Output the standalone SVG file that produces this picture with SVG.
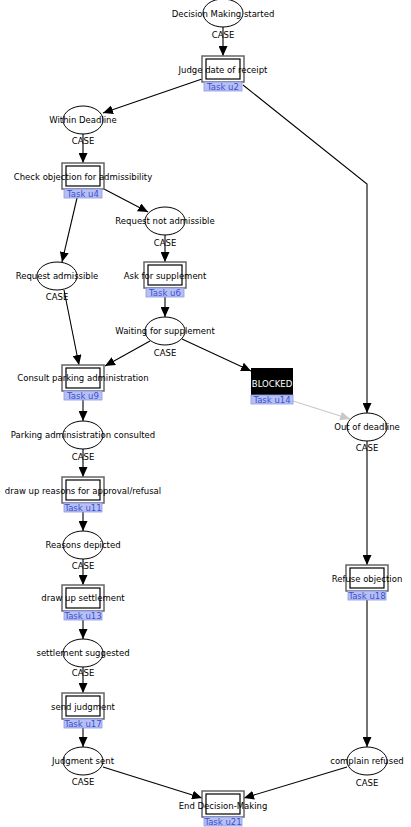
<svg xmlns="http://www.w3.org/2000/svg" width="411" height="827" viewBox="0 0 411 827">
<defs>
<marker id="ah" markerUnits="userSpaceOnUse" markerWidth="10" markerHeight="9" refX="10" refY="4.5" orient="auto"><path d="M0,0 L10,4.5 L0,9 z" fill="#000"/></marker>
<marker id="ahg" markerUnits="userSpaceOnUse" markerWidth="10" markerHeight="9" refX="10" refY="4.5" orient="auto"><path d="M0,0 L10,4.5 L0,9 z" fill="#c8c8c8"/></marker>
<style>
text{font-family:"DejaVu Sans",Verdana,sans-serif;font-size:8.5px;text-anchor:middle;fill:#000}
.pl ellipse{fill:none;stroke:#000;stroke-width:1}
.tk .o{fill:#fff;stroke:#666;stroke-width:1.5}
.tk .i{fill:none;stroke:#000;stroke-width:1.2}
.lb rect{fill:#b7c0f4;stroke:#8a98e0;stroke-width:0.8}
.lb text{fill:#3a4fd0}
.bl rect.b{fill:#000}
.bl text.w{fill:#fff}
#connectors path{fill:none;stroke:#000;stroke-width:1.1;marker-end:url(#ah)}
#connectors path.g{stroke:#c8c8c8;marker-end:url(#ahg)}
</style>
</defs>
<rect width="411" height="827" fill="#fff"/>
<g id="connectors">
<path d="M223,27 L223,56"/>
<path d="M202,79 L103,113"/>
<path d="M243,85 L367,184 L367,413"/>
<path d="M83,134 L83,163"/>
<path d="M104,189 L148,212"/>
<path d="M77,198 L62,262"/>
<path d="M165,235 L165,262"/>
<path d="M165,297 L165,317"/>
<path d="M64,290 L79,365"/>
<path d="M150,341 L105,366"/>
<path d="M182,339 L251,371"/>
<path class="g" d="M293,401 L350,419"/>
<path d="M83,400 L83,421"/>
<path d="M83,449 L83,477"/>
<path d="M83,512 L83,531"/>
<path d="M83,559 L83,585"/>
<path d="M83,620 L83,639"/>
<path d="M83,667 L83,693"/>
<path d="M83,728 L83,747"/>
<path d="M103,767 L202,798"/>
<path d="M367,441 L367,565"/>
<path d="M367,600 L367,747"/>
<path d="M347,767 L244,798"/>
</g>
<g id="p_start" class="pl"><ellipse cx="223" cy="13" rx="20" ry="14"/><text x="223" y="17">Decision Making started</text><text x="223" y="38">CASE</text></g>
<g id="t_u2" class="tk"><rect class="o" x="202" y="56" width="42" height="26"/><rect class="i" x="206" y="59" width="34" height="20"/><text x="223" y="73">Judge date of receipt</text><g class="lb"><rect x="204" y="82" width="38" height="9"/><text x="223" y="90">Task u2</text></g></g>
<g id="p_within" class="pl"><ellipse cx="83" cy="120" rx="20" ry="14"/><text x="83" y="123">Within Deadline</text><text x="83" y="144">CASE</text></g>
<g id="t_u4" class="tk"><rect class="o" x="62" y="163" width="42" height="26"/><rect class="i" x="66" y="166" width="34" height="20"/><text x="83" y="180">Check objection for admissibility</text><g class="lb"><rect x="64" y="189" width="38" height="9"/><text x="83" y="197">Task u4</text></g></g>
<g id="p_notadm" class="pl"><ellipse cx="165" cy="221" rx="20" ry="14"/><text x="165" y="224">Request not admissible</text><text x="165" y="246">CASE</text></g>
<g id="p_adm" class="pl"><ellipse cx="57" cy="276" rx="20" ry="14"/><text x="57" y="279">Request admissible</text><text x="57" y="300">CASE</text></g>
<g id="t_u6" class="tk"><rect class="o" x="144" y="262" width="42" height="26"/><rect class="i" x="148" y="265" width="34" height="20"/><text x="165" y="279">Ask for supplement</text><g class="lb"><rect x="146" y="288" width="38" height="9"/><text x="165" y="296">Task u6</text></g></g>
<g id="p_waiting" class="pl"><ellipse cx="165" cy="331" rx="20" ry="14"/><text x="165" y="334">Waiting for supplement</text><text x="165" y="356">CASE</text></g>
<g id="t_u9" class="tk"><rect class="o" x="62" y="365" width="42" height="26"/><rect class="i" x="66" y="368" width="34" height="20"/><text x="83" y="381">Consult parking administration</text><g class="lb"><rect x="64" y="391" width="38" height="9"/><text x="83" y="399">Task u9</text></g></g>
<g id="t_u14" class="tk bl"><rect class="b" x="251" y="368" width="42" height="27"/><text class="w" x="272" y="387">BLOCKED</text><g class="lb"><rect x="251" y="395" width="42" height="9"/><text x="272" y="403">Task u14</text></g></g>
<g id="p_out" class="pl"><ellipse cx="367" cy="427" rx="20" ry="14"/><text x="367" y="430">Out of deadline</text><text x="367" y="451">CASE</text></g>
<g id="p_parking" class="pl"><ellipse cx="83" cy="435" rx="20" ry="14"/><text x="83" y="438">Parking adminsistration consulted</text><text x="83" y="460">CASE</text></g>
<g id="t_u11" class="tk"><rect class="o" x="62" y="477" width="42" height="26"/><rect class="i" x="66" y="480" width="34" height="20"/><text x="83" y="494">draw up reasons for approval/refusal</text><g class="lb"><rect x="64" y="503" width="38" height="9"/><text x="83" y="511">Task u11</text></g></g>
<g id="p_reasons" class="pl"><ellipse cx="83" cy="545" rx="20" ry="14"/><text x="83" y="548">Reasons depicted</text><text x="83" y="569">CASE</text></g>
<g id="t_u13" class="tk"><rect class="o" x="62" y="585" width="42" height="26"/><rect class="i" x="66" y="588" width="34" height="20"/><text x="83" y="601">draw up settlement</text><g class="lb"><rect x="64" y="611" width="38" height="9"/><text x="83" y="619">Task u13</text></g></g>
<g id="p_settle" class="pl"><ellipse cx="83" cy="653" rx="20" ry="14"/><text x="83" y="656">settlement suggested</text><text x="83" y="676">CASE</text></g>
<g id="t_u17" class="tk"><rect class="o" x="62" y="693" width="42" height="26"/><rect class="i" x="66" y="696" width="34" height="20"/><text x="83" y="710">send judgment</text><g class="lb"><rect x="64" y="719" width="38" height="9"/><text x="83" y="727">Task u17</text></g></g>
<g id="p_judg" class="pl"><ellipse cx="83" cy="761" rx="20" ry="14"/><text x="83" y="764">Judgment sent</text><text x="83" y="785">CASE</text></g>
<g id="t_u18" class="tk"><rect class="o" x="346" y="565" width="42" height="26"/><rect class="i" x="350" y="568" width="34" height="20"/><text x="367" y="582">Refuse objection</text><g class="lb"><rect x="348" y="591" width="38" height="9"/><text x="367" y="599">Task u18</text></g></g>
<g id="p_compl" class="pl"><ellipse cx="367" cy="761" rx="20" ry="14"/><text x="367" y="764">complain refused</text><text x="367" y="786">CASE</text></g>
<g id="t_u21" class="tk"><rect class="o" x="202" y="791" width="42" height="26"/><rect class="i" x="206" y="794" width="34" height="20"/><text x="223" y="809">End Decision-Making</text><g class="lb"><rect x="204" y="817" width="38" height="9"/><text x="223" y="825">Task u21</text></g></g>
</svg>
